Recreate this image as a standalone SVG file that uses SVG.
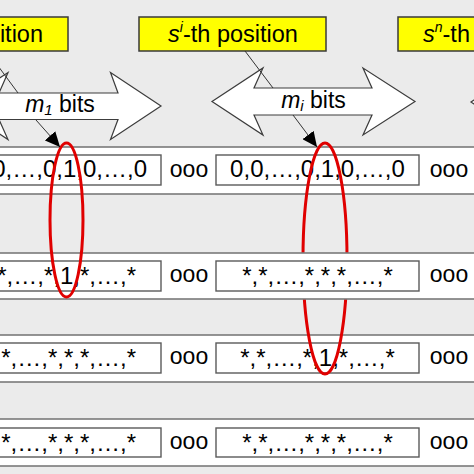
<svg xmlns="http://www.w3.org/2000/svg" width="474" height="474" viewBox="0 0 474 474">
<style>
text{font-family:"Liberation Sans",Arial,sans-serif;fill:#000}
.lbl{fill:#ffff00;stroke:#3a3a3a;stroke-width:1.5}
.lt{font-size:23.5px}
.barr{fill:#fff;stroke:#3c3c3c;stroke-width:1.2;stroke-linejoin:miter}
.band{fill:#fff;stroke:#7a7a7a;stroke-width:1.6}
.box{fill:#fff;stroke:#5a5a5a;stroke-width:1.4}
.bt{font-size:24px;text-anchor:middle}
.bta{font-size:24px;text-anchor:end}
.oo{font-size:23px;text-anchor:middle}
.ell{fill:none;stroke:#e00000;stroke-width:3}
.call{stroke:#333;stroke-width:1;fill:none}
.ptr{stroke:#333;stroke-width:1;fill:none;marker-end:url(#ah)}
.it{font-style:italic}
</style>
<defs>
<marker id="ah" viewBox="0 0 15 14" refX="15" refY="7" markerWidth="15" markerHeight="14" markerUnits="userSpaceOnUse" orient="auto">
<path d="M0,0 L15,7 L0,14 Z" fill="#000"/>
</marker>
</defs>
<rect x="0" y="0" width="474" height="474" fill="#ebebeb"/>

<g id="label1"><rect class="lbl" x="-10" y="17" width="78" height="34"/><text class="lt" x="43" y="42" text-anchor="end">ition</text></g>
<g id="label2"><rect class="lbl" x="139" y="17" width="187" height="34"/><text class="lt" x="233" y="42" text-anchor="middle"><tspan class="it">s</tspan><tspan class="it" font-size="14" dy="-10">i</tspan><tspan dy="10">-th position</tspan></text></g>
<g id="label3"><rect class="lbl" x="398" y="17" width="90" height="34"/><text class="lt" x="423" y="42"><tspan class="it">s</tspan><tspan class="it" font-size="14" dy="-10">n</tspan><tspan dy="10">-th</tspan></text></g>

<g id="arrow1"><polygon class="barr" points="-43,106 8,72.5 -1,93 118,93 110.5,72.5 161,106 110.5,139.5 118,119.5 -1,119.5 8,139.5"/>
<text x="60" y="112" font-size="23px" text-anchor="middle"><tspan class="it">m</tspan><tspan class="it" font-size="15" dy="3">1</tspan><tspan dy="-3"> bits</tspan></text></g>
<g id="arrow2"><polygon class="barr" points="212,101.5 263,68 254,88 372,88 363,68 415,101.5 363,135 372,115 254,115 263,135"/>
<text x="313.5" y="108" font-size="23px" text-anchor="middle"><tspan class="it">m</tspan><tspan class="it" font-size="15" dy="3">i</tspan><tspan dy="-3"> bits</tspan></text></g>
<g id="arrow3"><polygon class="barr" points="471,102 522,68.5 513,88.5 631,88.5 622,68.5 674,102 622,135.5 631,115.5 513,115.5 522,135.5"/></g>

<g id="row1"><rect class="band" x="-5" y="147" width="484" height="47"/>
<rect class="box" x="-45" y="155" width="206" height="30"/><text class="bta" x="147" y="177">0,…,0,1,0,…,0</text>
<text class="oo" x="189" y="177">ooo</text>
<rect class="box" x="216" y="155" width="203" height="30"/><text class="bt" x="317.5" y="177">0,0,…,0,1,0,…,0</text>
<text class="oo" x="449" y="177">ooo</text></g>

<g id="row3"><rect class="band" x="-5" y="335" width="484" height="47"/>
<rect class="box" x="-45" y="343" width="206" height="30"/><text class="bta" x="136" y="366">*,…,*,*,*,…,*</text>
<text class="oo" x="189" y="364">ooo</text>
<rect class="box" x="216" y="343" width="203" height="30"/><text class="bt" x="317.5" y="366">*,*,…,*,1,*,…,*</text>
<text class="oo" x="449" y="364">ooo</text></g>

<g id="row4"><rect class="band" x="-5" y="419" width="484" height="47"/>
<rect class="box" x="-45" y="428" width="206" height="29"/><text class="bta" x="136" y="451">*,…,*,*,*,…,*</text>
<text class="oo" x="189" y="449">ooo</text>
<rect class="box" x="216" y="428" width="203" height="29"/><text class="bt" x="317.5" y="451">*,*,…,*,*,*,…,*</text>
<text class="oo" x="449" y="449">ooo</text></g>

<g id="ellipse2"><ellipse class="ell" cx="325" cy="258.5" rx="22" ry="115.5"/></g>

<g id="row2"><rect class="band" x="-5" y="253" width="484" height="46"/>
<rect class="box" x="-45" y="261" width="206" height="30"/><text class="bta" x="136" y="284">*,…,*,1,*,…,*</text>
<text class="oo" x="189" y="282">ooo</text>
<rect class="box" x="216" y="261" width="203" height="30"/><text class="bt" x="317.5" y="284">*,*,…,*,*,*,…,*</text>
<text class="oo" x="449" y="282">ooo</text></g>

<g id="ellipse1"><ellipse class="ell" cx="66.5" cy="220" rx="16.5" ry="77"/></g>

<g id="connectors">
<line class="call" x1="-13" y1="51" x2="18" y2="93"/>
<line class="call" x1="245" y1="51" x2="273" y2="88"/>
<line class="ptr" x1="36" y1="120" x2="60" y2="147"/>
<line class="ptr" x1="293" y1="115" x2="317" y2="147"/>
</g>
</svg>
